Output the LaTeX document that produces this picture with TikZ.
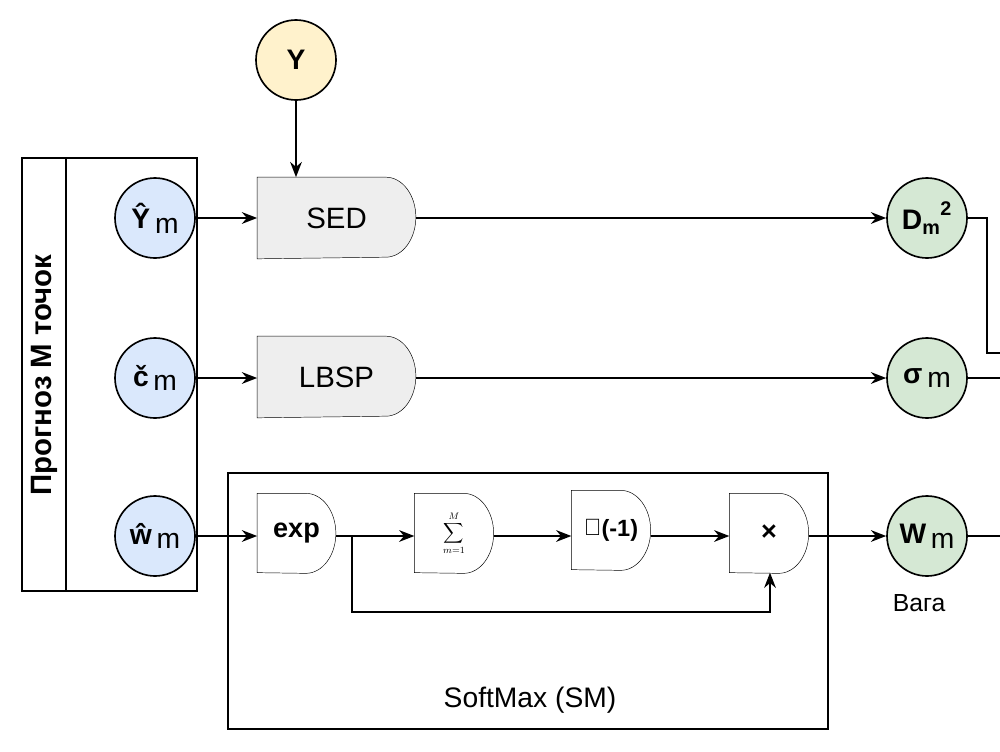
\documentclass[tikz,border=0pt]{standalone}
\usepackage{fontspec}
\setmainfont{Liberation Sans}
\usepackage{amsmath}
\usetikzlibrary{positioning,backgrounds,arrows.meta}

\tikzset{
  inp/.style={circle,draw,minimum size=68pt,fill=inblue},
  outp/.style={circle,draw,minimum size=68pt,fill=outgreen},
  truth/.style={circle,draw,minimum size=68pt,fill=truthyellow},
  blk/.style={inner sep=0pt,font=\fontsize{25}{28}\selectfont},
  lbl/.style={font=\fontsize{24}{28}\selectfont},
}
\definecolor{inblue}{HTML}{DAE8FC}
\definecolor{outgreen}{HTML}{D5E8D4}
\definecolor{truthyellow}{HTML}{FFF2CC}
\definecolor{grayblk}{HTML}{EEEEEE}

% delay-shaped outline around a named box
\newcommand{\delayshape}[2]{%
  \draw[fill=#2] (#1.south west) -- (#1.north west) -- ([xshift=-25.5pt]#1.north east)
    arc[start angle=90,end angle=-90,x radius=25.5pt,y radius=34pt] -- cycle;}

\begin{document}
\begin{tikzpicture}[x=0.85pt,y=-0.85pt,>={Stealth[length=13pt,width=10pt]},line width=1.4pt]
	\useasboundingbox (0,0) rectangle (1000,751);

	% left frame
	\draw (22,158) rectangle (197,591);
	\draw (66,158) -- (66,591);
	\node[rotate=90,font=\bfseries\fontsize{25}{28}\selectfont] (title) at (44,375) {Прогноз M точок};

	% inputs
	\node[inp,lbl] (yhat) at (155,218) {\textbf{Ŷ}\,\raisebox{-4pt}{m}};
	\node[inp,lbl] (chat) at (155,378) {\textbf{č}\,\raisebox{-4pt}{m}};
	\node[inp,lbl] (what) at (155,536) {\textbf{ŵ}\,\raisebox{-4pt}{m}};
	\node[truth,lbl] (ytrue) at (296,60) {\textbf{Y}};

	% blocks
	\node[blk,minimum width=133.5pt,minimum height=68pt] (sed) at (336.5,218) {SED};
	\node[blk,minimum width=133.5pt,minimum height=68pt] (lbsp) at (336.5,377) {LBSP};
	\node[blk,minimum width=65.5pt,minimum height=66pt,font=\bfseries\fontsize{23}{26}\selectfont] (exp) at (296.5,533) {exp};
	\node[blk,minimum width=66pt,minimum height=66pt,font=\fontsize{12}{14}\selectfont] (sum) at (454,533) {$\displaystyle\sum_{m=1}^{M}$};
	\node[blk,minimum width=66pt,minimum height=66pt,font=\bfseries\fontsize{20}{24}\selectfont] (inv) at (611,530) {\raisebox{1pt}{\textbf{\char"2227}}(-1)};
	\node[blk,minimum width=66pt,minimum height=66pt,font=\bfseries\fontsize{23}{26}\selectfont] (mul) at (769,533) {×};

	\begin{scope}[on background layer]
		\delayshape{sed}{grayblk}
		\delayshape{lbsp}{grayblk}
		\foreach \b in {exp,sum,inv,mul} {\delayshape{\b}{white}}
	\end{scope}

	% outputs
	\node[outp,lbl] (dist) at (927,218) {\textbf{D\textsubscript{m}\raisebox{3pt}{\textsuperscript{2}}}};
	\node[outp,lbl] (sigma) at (927,378) {\textbf{σ}\,\raisebox{-4pt}{m}};
	\node[outp,lbl] (wgt) at (927,536) {\textbf{W}\,\raisebox{-4pt}{m}};
	\node[lbl,font=\fontsize{21}{24}\selectfont] (vaga) at (919,603) {Вага};

	% SoftMax frame
	\draw (228,473) rectangle (828,729);
	\node[lbl] (smlabel) at (530,700) {SoftMax (SM)};

	\coordinate (split) at (352,536);
	\coordinate (loopa) at (352,612);
	\coordinate (loopb) at (770,612);
	\coordinate (bend) at (987,218);
	\coordinate (bendb) at (987,353);
	\coordinate (outd) at (1000,353);
	\coordinate (outs) at (1000,378);
	\coordinate (outw) at (1000,536);

	\draw[->] (ytrue) -- (ytrue|-sed.north);
	\draw[->] (yhat) -- (sed.west|-yhat);
	\draw[->] (chat) -- (lbsp.west|-chat);
	\draw[->] (what) -- (exp.west|-what);
	\draw[->] (sed.east|-yhat) -- (dist);
	\draw[->] (lbsp.east|-chat) -- (sigma);
	\draw[->] (exp.east|-what) -- (sum.west|-what);
	\draw[->] (sum.east|-what) -- (inv.west|-what);
	\draw[->] (inv.east|-what) -- (mul.west|-what);
	\draw[->] (mul.east|-what) -- (wgt);
	\draw[->] (split) -- (loopa) -- (loopb) -- (loopb|-mul.south);
	\draw (dist) -- (bend) -- (bendb) -- (outd);
	\draw (sigma) -- (outs);
	\draw (wgt) -- (outw);
\end{tikzpicture}
\end{document}
